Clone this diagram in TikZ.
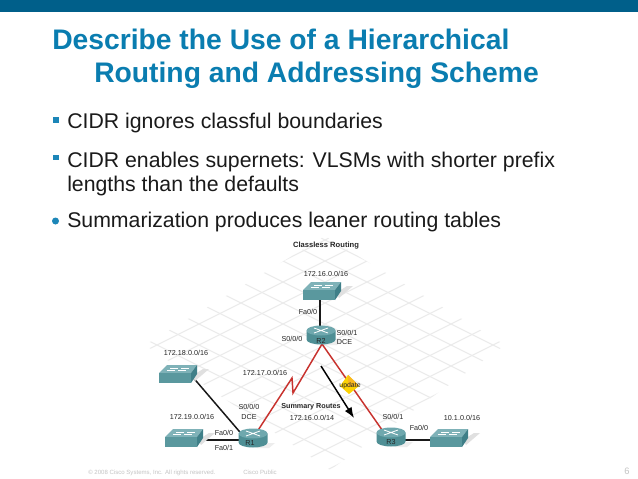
\documentclass[tikz,border=0pt]{standalone}
\usepackage{fontspec}
\usetikzlibrary{arrows.meta}
\setmainfont{Liberation Sans}
\definecolor{barblue}{HTML}{005F8A}
\definecolor{titleblue}{HTML}{0A7DB0}
\definecolor{bodyink}{HTML}{1A1A1A}
\definecolor{bulletblue}{HTML}{1C86B8}
\definecolor{gridgray}{HTML}{EBEBEB}
\definecolor{teal}{HTML}{5A989E}
\definecolor{tealtop}{HTML}{7FB2B8}
\definecolor{tealdark}{HTML}{3F7F88}
\definecolor{routertop}{HTML}{6FA8AE}
\definecolor{routerside}{HTML}{4F8F95}
\definecolor{serialred}{HTML}{C8322E}
\definecolor{footgray}{HTML}{C4C4C4}
\tikzset{
  x=0.75pt,y=-0.75pt,
  anchorpt/.style={inner sep=0pt,minimum size=0pt,outer sep=0pt},
  routerbox/.style={inner sep=0pt,outer sep=0pt,minimum width=21pt,minimum height=13.5pt},
  titletext/.style={anchor=base west,inner sep=0pt,font=\fontsize{21.2pt}{24pt}\selectfont\bfseries,text=titleblue},
  bodytext/.style={anchor=base west,inner sep=0pt,font=\fontsize{15.95pt}{18pt}\selectfont,text=bodyink},
  lab/.style={inner sep=0pt,font=\fontsize{5.4pt}{7pt}\selectfont,text=black!85},
  boldlab/.style={lab,font=\fontsize{5.7pt}{7pt}\selectfont\bfseries},
  foot/.style={anchor=base west,inner sep=0pt,font=\fontsize{4.55pt}{6pt}\selectfont,text=footgray},
  blackline/.style={line width=1.1pt,black!90},
  serial/.style={line width=1.1pt,serialred,line join=miter},
  gridline/.style={line width=0.7pt,gridgray},
  router/.pic={
    \fill[black!7] (4,5) -- (22,5) -- (16,10) -- (4,10) -- cycle;
    \fill[routerside] (-14.5,-4.5) -- (-14.5,4.5) arc[start angle=180,end angle=0,x radius=14.5,y radius=5] -- (14.5,-4.5) -- cycle;
    \fill[routertop] (0,-4.5) ellipse[x radius=14.5,y radius=5];
    \draw[white,line width=0.6pt] (-7,-7) -- (7,-2) (-7,-2) -- (7,-7);
  },
  switchbox/.pic={
    \fill[black!12] (33,3) -- (44,-4) -- (50,-4) -- (36,8) -- cycle;
    \fill[tealtop] (0,0) -- (8,-8) -- (38,-8) -- (32,0) -- cycle;
    \fill[teal] (0,0) -- (32,0) -- (32,10) -- (0,10) -- cycle;
    \fill[tealdark] (32,0) -- (38,-8) -- (38,1) -- (32,10) -- cycle;
    \draw[white,line width=0.5pt] (11,-5) -- (19,-5) (22,-5) -- (30,-5) (8,-3) -- (16,-3) (19,-3) -- (27,-3);
  }
}
\begin{document}
\begin{tikzpicture}
\useasboundingbox (0,0) rectangle (638,478);
\fill[white] (0,0) rectangle (638,478);
\fill[barblue] (0,0) rectangle (638,12);
\node[titletext] (t1) at (52,50) {Describe the Use of a Hierarchical};
\node[titletext] (t2) at (94,82) {Routing and Addressing Scheme};
\fill[bulletblue] (53,117) rectangle (58.5,122.5);
\node[bodytext] (b1) at (67,128.5) {CIDR ignores classful boundaries};
\fill[bulletblue] (53,154.5) rectangle (58.5,160);
\node[bodytext] (b2) at (67,167) {CIDR enables supernets: VLSMs with shorter prefix};
\node[bodytext] (b2b) at (67,191) {lengths than the defaults};
\fill[bulletblue] (55.5,221) circle[radius=3.5];
\node[bodytext] (b3) at (67,227.5) {Summarization produces leaner routing tables};
% grid
\begin{scope}
\clip (325,236) -- (505,345) -- (330,470) -- (145,345) -- cycle;
\foreach \k in {-14,...,14}{
  \draw[gridline] ({325+\k*42-300},{345-150}) -- ({325+\k*42+300},{345+150});
  \draw[gridline] ({325+\k*42-300},{345+150}) -- ({325+\k*42+300},{345-150});
}
\end{scope}
% device anchors
\node[routerbox] (R2) at (322,335) {};
\node[routerbox] (R1) at (253,438) {};
\node[routerbox] (R3) at (391,437) {};
\node[anchorpt] (S16) at (320,295) {};
\node[anchorpt] (S18) at (191,375) {};
\node[anchorpt] (S19) at (190,440) {};
\node[anchorpt] (S10) at (440,440) {};
\coordinate (z1) at (292,378);
\coordinate (z2) at (293,393);
\coordinate (arrA) at (321,366);
\coordinate (arrB) at (354,418);
% connectors
\draw[blackline] (S16) -- (S16 |- R2.north);
\draw[blackline] (S18) -- ([xshift=-6pt]R1.center);
\draw[blackline] (S19) -- (S19 -| R1.center);
\draw[blackline] (S10 -| R3.center) -- (S10);
\draw[serial] (R1.center) -- (z1) -- (z2) -- (R2.south);
\draw[serial] (R2.south) -- ([xshift=-3pt]R3.center);
\draw[line width=1.1pt,black,-{Latex[length=8pt,width=6pt]}] (arrA) -- (arrB);
% devices
\pic at (303,290) {switchbox};
\pic at (159,373) {switchbox};
\pic at (165,437) {switchbox};
\pic at (430,437) {switchbox};
\pic at (321,335) {router};
\pic at (253,438) {router};
\pic at (391,437) {router};
% update
\fill[yellow!70!orange] (348,375) -- (359,386) -- (349,394) -- (340,386) -- cycle;
\fill[yellow!40!orange!90] (348,375) -- (359,386) -- (348,387) -- cycle;
\node[lab,font=\fontsize{5.2pt}{7pt}\selectfont] (upd) at (350,386) {update};
% labels
\node[boldlab] (lt) at (326,246) {Classless Routing};
\node[lab] (l1) at (326,274) {172.16.0.0/16};
\node[lab] (l2) at (308,312) {Fa0/0};
\node[lab] (l3) at (292,339) {S0/0/0};
\node[lab] (l4) at (347,333) {S0/0/1};
\node[lab] (l5) at (344.5,342) {DCE};
\node[lab] (l6) at (186,353) {172.18.0.0/16};
\node[lab] (l7) at (265,373) {172.17.0.0/16};
\node[lab] (l8) at (249,407) {S0/0/0};
\node[lab] (l9) at (249,417) {DCE};
\node[boldlab,font=\fontsize{5.4pt}{7pt}\selectfont\bfseries] (l10) at (311,407) {Summary Routes};
\node[lab] (l11) at (312,418) {172.16.0.0/14};
\node[lab] (l12) at (192,417) {172.19.0.0/16};
\node[lab] (l13) at (224,433) {Fa0/0};
\node[lab] (l14) at (224,448) {Fa0/1};
\node[lab] (l15) at (250,443) {R1};
\node[lab] (l16) at (321,341) {R2};
\node[lab] (l17) at (391,442) {R3};
\node[lab] (l18) at (393,417) {S0/0/1};
\node[lab] (l19) at (419,428) {Fa0/0};
\node[lab] (l20) at (462,418) {10.1.0.0/16};
% footer
\node[foot] (f1) at (88,474) {\textcopyright{} 2008 Cisco Systems, Inc. All rights reserved.};
\node[foot] (f2) at (243,474) {Cisco Public};
\node[foot,font=\fontsize{7pt}{8pt}\selectfont] (f3) at (624,474) {6};
\end{tikzpicture}
\end{document}
